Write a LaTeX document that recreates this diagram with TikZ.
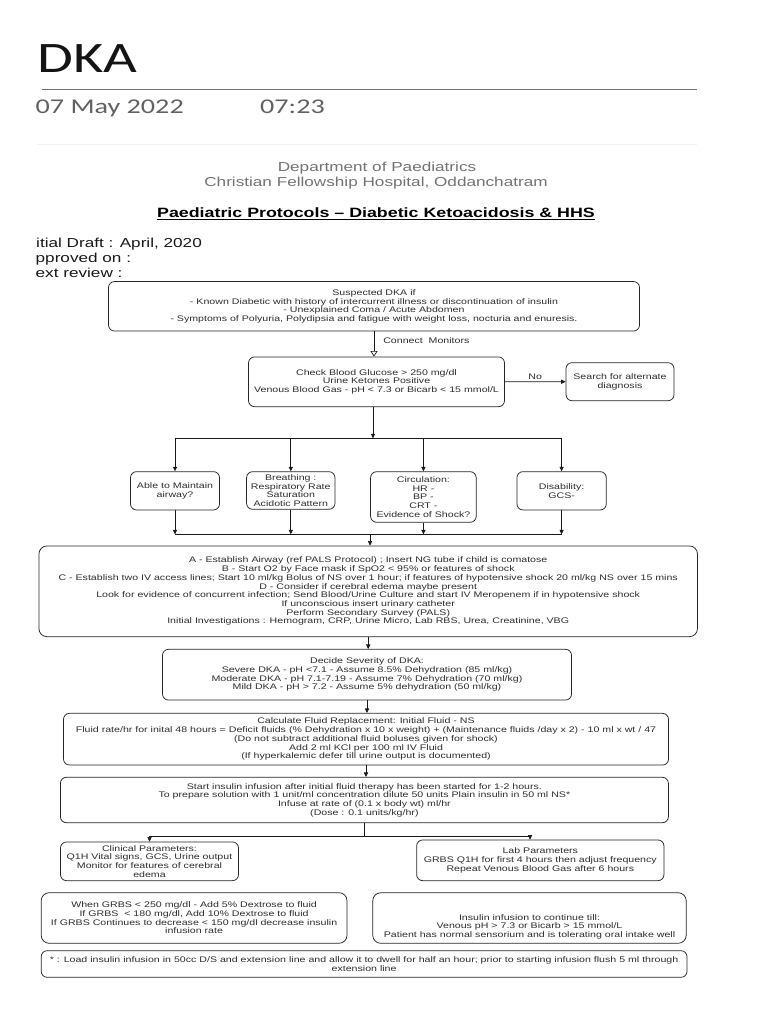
\documentclass[tikz,border=0pt]{standalone}
\usepackage{fontspec}
\usetikzlibrary{arrows.meta}
\newfontfamily\flowfont{Liberation Sans}[FakeStretch=1.31]
\newfontfamily\hdrfont{Liberation Sans}[FakeStretch=1.32]
\newfontfamily\calfont{Carlito}[FakeStretch=1.34]
\newcommand\flowtext{\flowfont\fontsize{8.1}{8.7}\selectfont}
\tikzset{
  box/.style={draw=black!85, line width=0.75pt, rounded corners=6pt, inner sep=0pt,
              align=center, font=\flowtext, text=black!82},
  conn/.style={line width=0.65pt, draw=black!90},
  arr/.style={conn, -{Triangle[length=4.5pt,width=4.2pt]}},
  openarr/.style={conn, -{Triangle[open,length=5.5pt,width=7pt]}},
  lbl/.style={font=\flowtext, text=black!82, inner sep=1pt},
  hdr/.style={anchor=base, inner sep=0pt, font=\hdrfont\fontsize{13}{15}\selectfont},
  hdrl/.style={anchor=base west, inner sep=0pt, font=\hdrfont\fontsize{13}{15}\selectfont, text=black!90},
}
\begin{document}
\begin{tikzpicture}[x=1pt,y=-1pt]
\fill[white] (0,0) rectangle (768,1024);
\useasboundingbox (0,0) rectangle (768,1024);

% ---------- header ----------
\node[anchor=base west, inner sep=0pt, font=\calfont\fontsize{43.5}{50}\selectfont, text=black!92] (dka) at (37,73) {DKA};
\draw[black!55, line width=1.2pt] (41.7,89.3) -- (697,89.3);
\node[anchor=base west, inner sep=0pt, font=\calfont\fontsize{21}{25}\selectfont, text=black!62] (date) at (35.5,113.3) {07 May 2022};
\node[anchor=base west, inner sep=0pt, font=\calfont\fontsize{21}{25}\selectfont, text=black!62] (time) at (260,113.3) {07:23};
\draw[black!6, line width=1pt] (36.7,145) -- (697,145);

\node[hdr, text=black!55] (dept) at (377,171.7) {Department of Paediatrics};
\node[hdr, text=black!55] (hosp) at (376,186.3) {Christian Fellowship Hospital, Oddanchatram};
\node[hdr, font=\hdrfont\bfseries\fontsize{13.5}{16}\selectfont, text=black] (proto) at (376,217.3) {Paediatric Protocols – Diabetic Ketoacidosis \& HHS};
\draw[black, line width=0.8pt] ([yshift=-2pt]proto.base west) -- ([yshift=-2pt]proto.base east);

\node[hdrl] (draft) at (36,247.3) {itial Draft : April, 2020};
\node[hdrl] (appr) at (35.5,262.3) {pproved on :};
\node[hdrl] (rev) at (35.5,277.3) {ext review :};

% ---------- flowchart boxes ----------
\node[box, minimum width=531pt, minimum height=49.5pt] (susp) at (374,306.3)
  {Suspected DKA if\\- Known Diabetic with history of intercurrent illness or discontinuation of insulin\\- Unexplained Coma / Acute Abdomen\\- Symptoms of Polyuria, Polydipsia and fatigue with weight loss, nocturia and enuresis.};

\node[box, minimum width=256pt, minimum height=49.7pt] (check) at (376.5,381.8)
  {Check Blood Glucose > 250 mg/dl\\Urine Ketones Positive\\Venous Blood Gas - pH < 7.3 or Bicarb < 15 mmol/L};

\node[box, minimum width=108pt, minimum height=38pt] (search) at (620,381.7)
  {Search for alternate\\diagnosis};

\node[box, minimum width=89pt, minimum height=38.3pt] (A) at (175,490.8)
  {Able to Maintain\\airway?};
\node[box, minimum width=88.4pt, minimum height=37.6pt] (B) at (290.8,490.5)
  {Breathing :\\Respiratory Rate\\Saturation\\Acidotic Pattern};
\node[box, minimum width=105.6pt, minimum height=50.6pt] (C) at (423.4,497)
  {Circulation:\\HR -\\BP -\\CRT -\\Evidence of Shock?};
\node[box, minimum width=89.3pt, minimum height=38.3pt] (D) at (561.6,490.8)
  {Disability:\\GCS-};

\node[box, rounded corners=8pt, minimum width=658.5pt, minimum height=90.7pt] (E) at (368.2,591.3)
  {A - Establish Airway (ref PALS Protocol) ; Insert NG tube if child is comatose\\
   B - Start O2 by Face mask if SpO2 < 95\% or features of shock\\
   C - Establish two IV access lines; Start 10 ml/kg Bolus of NS over 1 hour; if features of hypotensive shock 20 ml/kg NS over 15 mins\\
   D - Consider if cerebral edema maybe present\\
   Look for evidence of concurrent infection; Send Blood/Urine Culture and start IV Meropenem if in hypotensive shock\\
   If unconscious insert urinary catheter\\
   Perform Secondary Survey (PALS)\\
   Initial Investigations : Hemogram, CRP, Urine Micro, Lab RBS, Urea, Creatinine, VBG};

\node[box, minimum width=409pt, minimum height=50.7pt] (F) at (367,674.7)
  {Decide Severity of DKA:\\
   Severe DKA - pH <7.1 - Assume 8.5\% Dehydration (85 ml/kg)\\
   Moderate DKA - pH 7.1-7.19 - Assume 7\% Dehydration (70 ml/kg)\\
   Mild DKA - pH > 7.2 - Assume 5\% dehydration (50 ml/kg)};

\node[box, minimum width=605pt, minimum height=51.7pt] (G) at (366,739.2)
  {Calculate Fluid Replacement: Initial Fluid - NS\\
   Fluid rate/hr for inital 48 hours = Deficit fluids (\% Dehydration x 10 x weight) + (Maintenance fluids /day x 2) - 10 ml x wt / 47\\
   (Do not subtract additional fluid boluses given for shock)\\
   Add 2 ml KCl per 100 ml IV Fluid\\
   (If hyperkalemic defer till urine output is documented)};

\node[box, minimum width=608pt, minimum height=45.4pt] (H) at (364.4,800)
  {Start insulin infusion after initial fluid therapy has been started for 1-2 hours.\\
   To prepare solution with 1 unit/ml concentration dilute 50 units Plain insulin in 50 ml NS*\\
   Infuse at rate of (0.1 x body wt) ml/hr\\
   (Dose : 0.1 units/kg/hr)};

\node[box, minimum width=178pt, minimum height=38.7pt] (I) at (149.5,861.3)
  {Clinical Parameters:\\Q1H Vital signs, GCS, Urine output\\Monitor for features of cerebral\\edema};

\node[box, minimum width=247.3pt, minimum height=40.7pt] (J) at (540.3,860.3)
  {Lab Parameters\\GRBS Q1H for first 4 hours then adjust frequency\\Repeat Venous Blood Gas after 6 hours};

\node[box, rounded corners=8pt, minimum width=305.8pt, minimum height=50.6pt] (K) at (194.1,918)
  {When GRBS < 250 mg/dl - Add 5\% Dextrose to fluid\\
   If GRBS \ < 180 mg/dl, Add 10\% Dextrose to fluid\\
   If GRBS Continues to decrease < 150 mg/dl decrease insulin\\
   infusion rate};

\node[box, rounded corners=8pt, minimum width=313.4pt, minimum height=50.6pt] (L) at (529.5,918) {};
\node[lbl, align=center] (Ltext) at (529.5,926.7)
  {Insulin infusion to continue till:\\
   Venous pH > 7.3 or Bicarb > 15 mmol/L\\
   Patient has normal sensorium and is tolerating oral intake well};

\node[box, minimum width=645.8pt, minimum height=26.6pt] (M) at (364.1,964)
  {* : Load insulin infusion in 50cc D/S and extension line and allow it to dwell for half an hour; prior to starting infusion flush 5 ml through\\
   extension line};

% ---------- connectors ----------
\draw[openarr] (susp.south) -- (susp.south |- check.north)
  node[lbl, pos=0.35, right, xshift=8pt] (cm) {Connect\ \ Monitors};
\draw[arr] (check.east) -- (search.west) node[lbl, midway, above, yshift=1pt] (no) {No};

\coordinate (bus1) at (373,438.3);
\draw[arr] (check.south -| bus1) -- (bus1);
\draw[conn] (A.north |- bus1) -- (D.north |- bus1);
\foreach \n in {A,B,C,D} \draw[arr] (\n.north |- bus1) -- (\n.north);

\coordinate (bus2) at (370,534.3);
\foreach \n in {A,B,C,D} \draw[arr] (\n.south) -- (\n.south |- bus2);
\draw[conn] (A.south |- bus2) -- (D.south |- bus2);
\draw[arr] (bus2) -- (bus2 |- E.north);

\draw[arr] (E.south) -- (E.south |- F.north);
\draw[arr] (F.south) -- (F.south |- G.north);
\draw[arr] (G.south) -- (G.south |- H.north);

\coordinate (split) at (364.8,836);
\coordinate (jdrop) at (530,836);
\draw[conn] (H.south) -- (H.south |- split);
\draw[conn] (I.north |- split) -- (jdrop);
\draw[arr] (I.north |- split) -- (I.north);
\draw[arr] (jdrop) -- (jdrop |- J.north);
\end{tikzpicture}
\end{document}
